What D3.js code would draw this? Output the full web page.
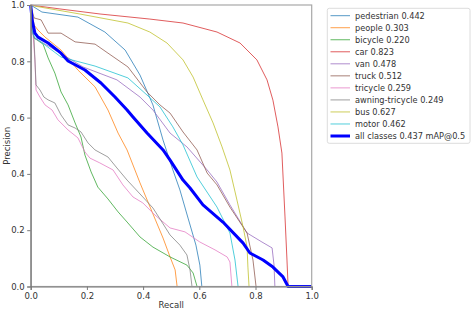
<!DOCTYPE html>
<html>
<head>
<meta charset="utf-8">
<script src="https://cdn.jsdelivr.net/npm/d3@7"></script>
<style>
  html, body { margin: 0; padding: 0; background: #fff; }
  svg { display: block; font-family: "DejaVu Sans", sans-serif; }
</style>
</head>
<body>
<svg id="chart" width="474" height="323"></svg>
<script>
// Precision-recall curves, one [recall, precision] list per class
const pedestrianPR = [[0,1],[0.04,0.975],[0.168,0.957],[0.264,0.904],[0.336,0.84],[0.389,0.751],[0.435,0.645],[0.471,0.52],[0.506,0.414],[0.531,0.343],[0.56,0.243],[0.588,0.147],[0.602,0.076],[0.609,0]];
const peoplePR = [[0,1],[0.012,0.929],[0.026,0.911],[0.051,0.886],[0.108,0.84],[0.168,0.769],[0.229,0.709],[0.275,0.627],[0.311,0.545],[0.343,0.485],[0.389,0.368],[0.435,0.258],[0.471,0.172],[0.496,0.105],[0.514,0.059],[0.521,0]];
const bicyclePR = [[0,1],[0.005,0.911],[0.012,0.883],[0.044,0.861],[0.062,0.812],[0.086,0.758],[0.108,0.691],[0.133,0.645],[0.158,0.581],[0.179,0.531],[0.193,0.467],[0.215,0.407],[0.239,0.353],[0.275,0.311],[0.311,0.265],[0.343,0.229],[0.389,0.176],[0.435,0.14],[0.496,0.105],[0.556,0.076],[0.578,0.048],[0.592,0]];
const carPR = [[0,1],[0.104,0.986],[0.247,0.968],[0.424,0.95],[0.542,0.936],[0.663,0.904],[0.745,0.865],[0.805,0.805],[0.841,0.734],[0.862,0.662],[0.88,0.567],[0.894,0.474],[0.905,0.247],[0.912,0.094],[0.916,0]];
const vanPR = [[0,1],[0.005,0.911],[0.012,0.883],[0.069,0.851],[0.186,0.78],[0.307,0.734],[0.389,0.673],[0.435,0.627],[0.496,0.545],[0.556,0.496],[0.628,0.414],[0.663,0.371],[0.709,0.29],[0.77,0.19],[0.823,0.158],[0.859,0.137],[0.866,0.076],[0.869,0]];
const truckPR = [[0,1],[0.012,0.954],[0.037,0.947],[0.062,0.9],[0.108,0.9],[0.158,0.869],[0.229,0.861],[0.275,0.829],[0.346,0.78],[0.414,0.691],[0.46,0.645],[0.496,0.616],[0.542,0.549],[0.592,0.485],[0.628,0.403],[0.663,0.361],[0.709,0.282],[0.77,0.19],[0.791,0.094],[0.802,0]];
const tricyclePR = [[0,1],[0.008,0.901],[0.015,0.805],[0.019,0.698],[0.033,0.673],[0.051,0.645],[0.076,0.627],[0.097,0.592],[0.133,0.556],[0.168,0.528],[0.193,0.478],[0.211,0.456],[0.246,0.439],[0.293,0.414],[0.328,0.361],[0.364,0.318],[0.399,0.297],[0.442,0.254],[0.496,0.208],[0.549,0.194],[0.602,0.158],[0.656,0.13],[0.699,0.105],[0.709,0.087],[0.716,0]];
const awningTricyclePR = [[0,1],[0.008,0.954],[0.012,0.876],[0.019,0.716],[0.033,0.698],[0.047,0.673],[0.062,0.663],[0.086,0.652],[0.108,0.609],[0.133,0.574],[0.158,0.563],[0.179,0.549],[0.204,0.51],[0.229,0.485],[0.275,0.46],[0.307,0.421],[0.343,0.378],[0.399,0.318],[0.435,0.279],[0.467,0.229],[0.496,0.183],[0.531,0.147],[0.556,0.112],[0.567,0.059],[0.574,0]];
const busPR = [[0,1],[0.015,0.996],[0.175,0.968],[0.346,0.936],[0.424,0.904],[0.485,0.865],[0.542,0.805],[0.578,0.744],[0.613,0.663],[0.649,0.581],[0.681,0.496],[0.709,0.414],[0.734,0.307],[0.756,0.211],[0.77,0.14],[0.773,0.069],[0.777,0]];
const motorPR = [[0,1],[0.005,0.911],[0.012,0.886],[0.051,0.858],[0.108,0.815],[0.229,0.783],[0.346,0.741],[0.414,0.68],[0.46,0.638],[0.506,0.567],[0.542,0.503],[0.592,0.389],[0.663,0.282],[0.709,0.19],[0.727,0.094],[0.738,0]];
const allClassesPR = [[0,1],[0.005,0.947],[0.015,0.9],[0.026,0.886],[0.062,0.865],[0.108,0.829],[0.133,0.801],[0.193,0.769],[0.25,0.723],[0.3,0.673],[0.343,0.627],[0.364,0.602],[0.414,0.545],[0.471,0.485],[0.496,0.449],[0.542,0.378],[0.567,0.35],[0.613,0.29],[0.684,0.229],[0.756,0.154],[0.78,0.119],[0.827,0.094],[0.862,0.069],[0.898,0.034],[0.916,0],[1.0,0]];

const classNames = ["pedestrian","people","bicycle","car","van","truck","tricycle","awning-tricycle","bus","motor"];
const classAP = [0.442,0.303,0.220,0.823,0.478,0.512,0.259,0.249,0.627,0.462];
const classCurves = [pedestrianPR, peoplePR, bicyclePR, carPR, vanPR, truckPR, tricyclePR, awningTricyclePR, busPR, motorPR];
const meanAP = 0.437;
const xTicks = [0, 0.2, 0.4, 0.6, 0.8, 1.0];
const yTicks = [0, 0.2, 0.4, 0.6, 0.8, 1.0];

const palette = ["#1f77b4","#ff7f0e","#2ca02c","#d62728","#9467bd","#8c564b","#e377c2","#7f7f7f","#bcbd22","#17becf"];

const svg = d3.select("#chart");
const x = d3.scaleLinear().domain([0, 1]).range([30.7, 311.7]);
const y = d3.scaleLinear().domain([0, 1]).range([286.5, 5]);

const line = d3.line().x(d => x(d[0])).y(d => y(d[1]));

// class curves
const curves = svg.append("g");
classCurves.forEach((c, i) => {
  curves.append("path")
    .attr("d", line(c))
    .attr("fill", "none")
    .attr("stroke", palette[i])
    .attr("stroke-opacity", 0.75)
    .attr("stroke-width", 1);
});
// mean curve over all classes
curves.append("path")
  .attr("d", line(allClassesPR))
  .attr("fill", "none")
  .attr("stroke", "#0000ff")
  .attr("stroke-width", 3)
  .attr("stroke-linejoin", "round");

// frame
const frameColor = "#7a7a7a";
svg.append("rect")
  .attr("x", x(0)).attr("y", y(1))
  .attr("width", x(1) - x(0)).attr("height", y(0) - y(1))
  .attr("fill", "none").attr("stroke", "#a8a8a8").attr("stroke-width", 1.2);

const xAxis = d3.axisBottom(x).tickValues(xTicks).tickFormat(d3.format(".1f")).tickSize(3.5).tickPadding(2.5);
const yAxis = d3.axisLeft(y).tickValues(yTicks).tickFormat(d3.format(".1f")).tickSize(3.5).tickPadding(2.5);

const gx = svg.append("g").attr("transform", `translate(0,${y(0)})`).call(xAxis);
const gy = svg.append("g").attr("transform", `translate(${x(0)},0)`).call(yAxis);
[gx, gy].forEach(g => {
  g.select(".domain").attr("stroke", frameColor).attr("stroke-width", 1.2);
  g.selectAll(".tick line").attr("stroke", frameColor).attr("stroke-width", 1);
  g.selectAll(".tick text").attr("fill", "#333").style("font-size", "8.5px").style("font-family", "DejaVu Sans, sans-serif");
});

svg.append("text")
  .attr("x", (x(0) + x(1)) / 2).attr("y", 308)
  .attr("text-anchor", "middle").attr("fill", "#333")
  .style("font-size", "8.5px").text("Recall");
svg.append("text")
  .attr("transform", `translate(10,${(y(0) + y(1)) / 2}) rotate(-90)`)
  .attr("text-anchor", "middle").attr("fill", "#333")
  .style("font-size", "8.5px").text("Precision");

// legend
const legend = svg.append("g");
legend.append("rect")
  .attr("x", 327.3).attr("y", 8.3).attr("width", 142.7).attr("height", 135)
  .attr("rx", 2).attr("fill", "#fff").attr("stroke", "#dcdcdc").attr("stroke-width", 1);
const entries = classNames.map((n, i) => ({label: `${n} ${classAP[i].toFixed(3)}`, color: palette[i], w: 1}));
entries.push({label: `all classes ${meanAP.toFixed(3)} mAP@0.5`, color: "#0000ff", w: 3});
entries.forEach((e, i) => {
  const yy = 15.7 + i * 12.03;
  legend.append("line")
    .attr("x1", 330.5).attr("x2", 350).attr("y1", yy).attr("y2", yy)
    .attr("stroke", e.color).attr("stroke-width", e.w)
    .attr("stroke-opacity", e.w === 1 ? 0.75 : 1);
  legend.append("text")
    .attr("x", 355).attr("y", yy).attr("dy", "0.35em")
    .attr("fill", "#333").style("font-size", "8.2px").text(e.label);
});
</script>
</body>
</html>
